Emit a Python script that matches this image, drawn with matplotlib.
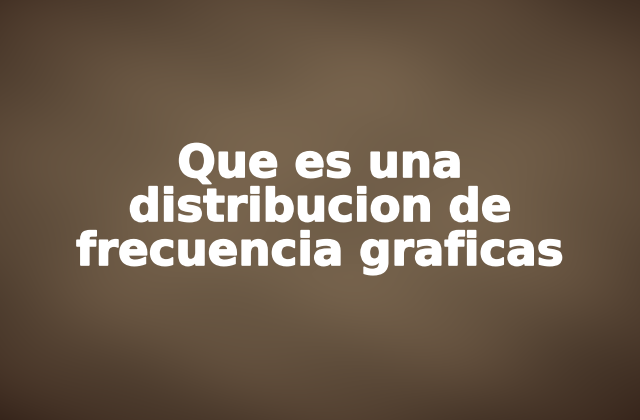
import numpy as np
import matplotlib.pyplot as plt
import matplotlib.patheffects as pe

# Title lines and where they sit (baseline y in px, from the top)
lines = ["Que es una", "distribucion de", "frecuencia graficas"]
baselines = [177, 221, 265]
cap_height = 33  # px

W, H = 640, 420

# Background: brown paper with dark vignette
yy, xx = np.mgrid[0:H, 0:W]
nx = (xx - W / 2) / (W / 2)
ny = (yy - H * 0.45) / (H / 2)
r = np.sqrt(nx**2 * 0.85 + ny**2 * 1.0)
v = np.clip(1 - 0.9 * np.clip(r - 0.4, 0, None) ** 1.4, 0, 1)
m = (0.025 * np.sin(xx / 37.0 + 1.3) * np.cos(yy / 29.0)
     + 0.02 * np.sin((xx + yy) / 53.0) + 0.015 * np.cos((xx - 2 * yy) / 41.0))
base = np.array([116, 97, 75]) / 255.0
edge = np.array([50, 33, 24]) / 255.0
t = v[..., None]
img = edge + (base - edge) * t
img = np.clip(img * (1 + m[..., None]), 0, 1)

fig = plt.figure(figsize=(6.4, 4.2), dpi=100)
ax = fig.add_axes([0, 0, 1, 1])
ax.imshow(img, extent=(0, W, H, 0), interpolation="bilinear")
ax.set_xlim(0, W)
ax.set_ylim(H, 0)
ax.axis("off")

# DejaVu Sans Bold cap height is ~0.73 em
fs = cap_height / 0.73 * 72 / 100
for s, b in zip(lines, baselines):
    ax.text(W / 2, b, s, ha="center", va="baseline", color="white",
            fontsize=fs, fontweight="bold", family="DejaVu Sans",
            path_effects=[pe.withStroke(linewidth=1.2, foreground="white")])

fig.savefig("out.png", dpi=100)
